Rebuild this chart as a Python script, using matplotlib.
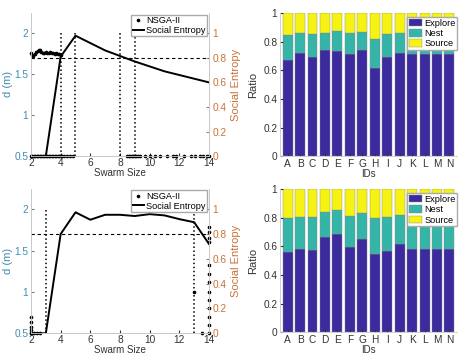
import numpy as np
import matplotlib
matplotlib.use('Agg')
import matplotlib.pyplot as plt

## Data
swarm = [2, 3, 4, 5, 6, 7, 8, 9, 10, 11, 12, 13, 14]
entropy_top = [0, 0, 0.81, 0.98, 0.92, 0.86, 0.815, 0.77, 0.73, 0.69, 0.66, 0.63, 0.60]
entropy_bot = [0, 0, 0.80, 0.975, 0.915, 0.955, 0.955, 0.945, 0.96, 0.95, 0.92, 0.895, 0.72]

# NSGA-II solutions (swarm size, d)
nsga_top_x = [2.0, 2.05, 2.15, 2.25, 2.35, 2.45, 2.55, 2.62, 2.7,
              2.8, 2.9, 3.0, 3.1, 3.2, 3.3, 3.4, 3.5, 3.6, 3.7, 3.8, 3.9, 4.0,
              2.0, 2.1, 2.2, 2.3, 2.4, 2.5, 2.6, 2.7, 2.8, 2.9, 3.0, 3.1, 3.2,
              3.3, 3.4, 3.5, 3.6, 3.7, 3.8, 3.9, 4.0, 4.1, 4.2, 4.4, 4.6, 4.8,
              8.5, 8.6, 8.7, 8.8, 8.9, 9.0, 9.1, 9.2, 9.35, 9.7, 10.0, 10.35,
              10.7, 11.15, 11.6, 11.8, 12.3, 12.8, 13.05, 13.4, 13.6, 13.85, 14.0]
nsga_top_y = [1.76, 1.74, 1.72, 1.75, 1.77, 1.78, 1.79, 1.80, 1.77,
              1.76, 1.76, 1.77, 1.76, 1.76, 1.77, 1.76, 1.76, 1.75, 1.76, 1.75, 1.75, 1.74,
              0.5, 0.5, 0.5, 0.5, 0.5, 0.5, 0.5, 0.5, 0.5, 0.5, 0.5, 0.5, 0.5,
              0.5, 0.5, 0.5, 0.5, 0.5, 0.5, 0.5, 0.5, 0.5, 0.5, 0.5, 0.5, 0.5,
              0.5, 0.5, 0.5, 0.5, 0.5, 0.5, 0.5, 0.5, 0.5, 0.5, 0.5, 0.5,
              0.5, 0.5, 0.5, 0.5, 0.5, 0.5, 0.5, 0.5, 0.5, 0.5, 0.5]
nsga_bot_x = [2.0, 2.0, 2.0, 2.0, 2.0, 2.0, 2.2, 2.4, 2.6,
              13.0, 13.5, 14, 14, 14, 14, 14, 14, 14, 14, 14, 14, 14, 14, 14]
nsga_bot_y = [0.5, 0.54, 0.58, 0.64, 0.70, 0.5, 0.5, 0.5, 0.5,
              1.0, 0.5, 0.5, 0.6, 0.7, 0.8, 0.9, 1.0, 1.12, 1.22, 1.32, 1.6, 1.65, 1.72, 1.78]

vlines_top = [4, 5, 8, 9]
vlines_bot = [3, 13]

ids = ['A', 'B', 'C', 'D', 'E', 'F', 'G', 'H', 'I', 'J', 'K', 'L', 'M', 'N']
explore_top = [0.673, 0.72, 0.69, 0.743, 0.738, 0.715, 0.745, 0.615, 0.69, 0.722, 0.713, 0.713, 0.713, 0.713]
nest_top = [0.846, 0.864, 0.855, 0.864, 0.874, 0.864, 0.869, 0.818, 0.855, 0.864, 0.862, 0.862, 0.862, 0.862]
explore_bot = [0.559, 0.583, 0.573, 0.667, 0.69, 0.599, 0.653, 0.548, 0.566, 0.615, 0.583, 0.583, 0.583, 0.583]
nest_bot = [0.802, 0.809, 0.807, 0.841, 0.853, 0.814, 0.834, 0.80, 0.807, 0.82, 0.81, 0.81, 0.81, 0.81]

## Style
c_left = '#3f8db0'
c_right = '#c8733a'
c_explore = '#3b2b9f'
c_nest = '#35b5a8'
c_source = '#f6f312'
spine_c = '#c8c8c8'
txt_c = '#333333'
fs_tick = 7.3
fs_leg = 6.6
fs_xlab = 7
fs_ylab = 8

plt.rcParams['font.family'] = 'Liberation Sans'

fig = plt.figure(figsize=(4.74, 3.54), dpi=100)


def entropy_panel(rect, entropy, nx, ny, vlines):
    ax = fig.add_axes(rect)
    ax2 = ax.twinx()
    ax.set_xlim(2, 14)
    ax.set_ylim(0.5, 2.25)
    ax2.set_ylim(0, 1.1667)
    ax.set_xticks([2, 4, 6, 8, 10, 12, 14])
    ax.set_yticks([0.5, 1, 1.5, 2])
    ax.set_yticklabels(['0.5', '1', '1.5', '2'])
    ax2.set_yticks([0, 0.2, 0.4, 0.6, 0.8, 1])
    ax2.set_yticklabels(['0', '0.2', '0.4', '0.6', '0.8', '1'])
    for a in (ax, ax2):
        a.spines['top'].set_visible(False)
        for s in ('left', 'right', 'bottom'):
            a.spines[s].set_color(spine_c)
            a.spines[s].set_linewidth(0.6)
    ax.tick_params(axis='y', colors=c_left, direction='in', length=2, labelsize=fs_tick, pad=2)
    ax.tick_params(axis='x', direction='in', length=2, labelsize=fs_tick, pad=1.5, colors=txt_c)
    ax2.tick_params(axis='y', colors=c_right, direction='in', length=2, labelsize=fs_tick, pad=2.5)
    ax.set_ylabel('d (m)', color=c_left, fontsize=fs_ylab, labelpad=1)
    ax2.set_ylabel('Social Entropy', color=c_right, fontsize=fs_ylab, labelpad=3)
    ax.set_xlabel('Swarm Size', fontsize=fs_xlab, labelpad=0, color=txt_c)

    ax2.axhline(0.8, color='k', ls='--', lw=0.8, dashes=(3, 2.5))
    for v in vlines:
        ax2.plot([v, v], [0, 1], color='k', ls=':', lw=1.1)
    h1, = ax.plot(nx, ny, '.', color='k', ms=3.2, clip_on=False, zorder=5)
    h2, = ax2.plot(swarm, entropy, color='k', lw=1.4)
    ax2.legend([h1, h2], ['NSGA-II', 'Social Entropy'], loc='upper right',
               fontsize=fs_leg, frameon=True, fancybox=False, edgecolor='#aaaaaa',
               borderpad=0.15, handlelength=1.3, handletextpad=0.2,
               labelspacing=0.1, borderaxespad=0.2, framealpha=1)
    return ax


def ratio_panel(rect, explore, nest):
    ax = fig.add_axes(rect)
    x = np.arange(1, len(ids) + 1)
    nest_h = np.array(nest) - np.array(explore)
    src_h = 1 - np.array(nest)
    ax.bar(x, explore, 0.8, color=c_explore, edgecolor='#888888', lw=0.3, label='Explore')
    ax.bar(x, nest_h, 0.8, bottom=explore, color=c_nest, edgecolor='#888888', lw=0.3, label='Nest')
    ax.bar(x, src_h, 0.8, bottom=nest, color=c_source, edgecolor='#888888', lw=0.3, label='Source')
    ax.set_xlim(0.4, 14.6)
    ax.set_ylim(0, 1)
    ax.set_xticks(x)
    ax.set_xticklabels(ids)
    ax.set_yticks([0, 0.2, 0.4, 0.6, 0.8, 1])
    ax.set_yticklabels(['0', '0.2', '0.4', '0.6', '0.8', '1'])
    ax.spines['top'].set_visible(False)
    ax.spines['right'].set_visible(False)
    for s in ('left', 'bottom'):
        ax.spines[s].set_color(spine_c)
        ax.spines[s].set_linewidth(0.6)
    ax.tick_params(direction='in', length=2, labelsize=fs_tick, colors=txt_c, pad=2)
    ax.set_ylabel('Ratio', fontsize=fs_ylab, labelpad=4, color=txt_c)
    ax.set_xlabel('IDs', fontsize=fs_xlab, labelpad=0, color=txt_c)
    ax.legend(loc='upper right', fontsize=fs_leg, frameon=True, fancybox=False,
              edgecolor='#aaaaaa', borderpad=0.15, handlelength=1.5, handleheight=0.9,
              handletextpad=0.2, labelspacing=0.15, borderaxespad=0.3, framealpha=1,
              bbox_to_anchor=(1.015, 0.99))
    return ax


entropy_panel([0.0654, 0.559, 0.3755, 0.405], entropy_top, nsga_top_x, nsga_top_y, vlines_top)
entropy_panel([0.0654, 0.0585, 0.3755, 0.409], entropy_bot, nsga_bot_x, nsga_bot_y, vlines_bot)
ratio_panel([0.591, 0.559, 0.373, 0.404], explore_top, nest_top)
ratio_panel([0.591, 0.0613, 0.373, 0.404], explore_bot, nest_bot)

plt.savefig('out.png', dpi=100)
